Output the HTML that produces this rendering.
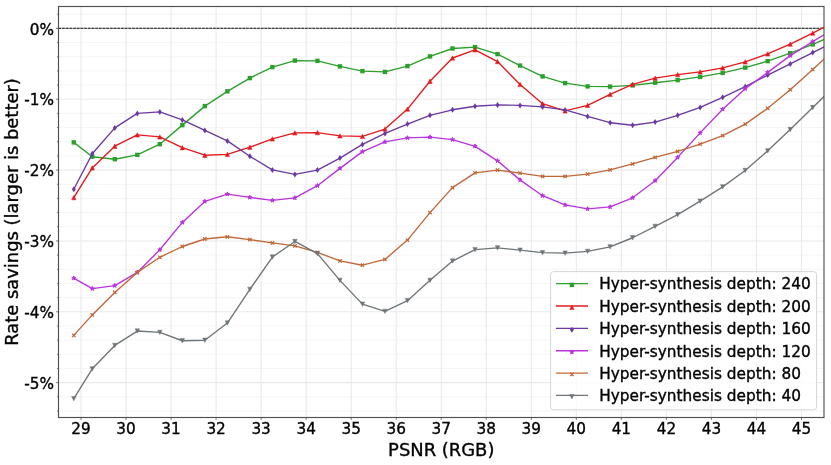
<!DOCTYPE html>
<html><head><meta charset="utf-8"><title>Rate savings</title>
<style>html,body{margin:0;padding:0;background:#fff}svg{display:block}text{font-family:"DejaVu Sans","Liberation Sans",sans-serif;fill:#000;stroke:#000;stroke-width:0.35px}</style></head><body>
<svg width="831" height="465" viewBox="0 0 831 465">
<rect width="831" height="465" fill="#fff"/>
<clipPath id="c"><rect x="58.5" y="6.5" width="765.50" height="411.00"/></clipPath>
<path d="M58.5 14.23H824.0M58.5 42.57H824.0M58.5 56.74H824.0M58.5 70.91H824.0M58.5 85.08H824.0M58.5 113.42H824.0M58.5 127.59H824.0M58.5 141.76H824.0M58.5 155.93H824.0M58.5 184.27H824.0M58.5 198.44H824.0M58.5 212.61H824.0M58.5 226.78H824.0M58.5 255.12H824.0M58.5 269.29H824.0M58.5 283.46H824.0M58.5 297.63H824.0M58.5 325.97H824.0M58.5 340.14H824.0M58.5 354.31H824.0M58.5 368.48H824.0M58.5 396.82H824.0M58.5 410.99H824.0" stroke="#f3f3f3" stroke-width="0.8" fill="none"/>
<path d="M81.01 6.5V417.5M126.04 6.5V417.5M171.07 6.5V417.5M216.10 6.5V417.5M261.13 6.5V417.5M306.16 6.5V417.5M351.19 6.5V417.5M396.22 6.5V417.5M441.25 6.5V417.5M486.28 6.5V417.5M531.31 6.5V417.5M576.34 6.5V417.5M621.37 6.5V417.5M666.40 6.5V417.5M711.43 6.5V417.5M756.46 6.5V417.5M801.49 6.5V417.5M58.5 28.40H824.0M58.5 99.25H824.0M58.5 170.10H824.0M58.5 240.95H824.0M58.5 311.80H824.0M58.5 382.65H824.0" stroke="#eaeaea" stroke-width="1.1" fill="none"/>
<path d="M58.5 28.40H824.0" stroke="#000" stroke-opacity="0.25" stroke-width="1.4" fill="none"/>
<path d="M58.5 28.40H824.0" stroke="#3c3c3c" stroke-width="1.25" stroke-dasharray="2.57 1.11" fill="none"/>
<g clip-path="url(#c)">
<path d="M73.80 142.40L92.27 156.70L114.79 159.20L137.30 154.90L159.82 144.20L182.33 125.10L204.85 106.10L227.36 91.30L249.88 78.10L272.39 67.10L294.90 60.60L317.42 60.90L339.93 66.40L362.45 71.10L384.96 71.90L407.48 66.10L429.99 56.40L452.51 48.50L475.02 47.10L497.54 54.10L520.05 65.60L542.57 76.40L565.08 83.10L587.60 86.40L610.11 86.60L632.62 85.40L655.14 82.70L677.65 80.10L700.17 76.90L722.68 72.90L745.20 67.60L767.71 61.10L790.23 53.10L812.74 44.40L835.26 34.80" stroke="#2ca02c" stroke-width="1.38" fill="none" stroke-linejoin="round"/>
<g><rect x="71.60" y="140.20" width="4.40" height="4.40" fill="#2ca02c"/><rect x="90.07" y="154.50" width="4.40" height="4.40" fill="#2ca02c"/><rect x="112.59" y="157.00" width="4.40" height="4.40" fill="#2ca02c"/><rect x="135.10" y="152.70" width="4.40" height="4.40" fill="#2ca02c"/><rect x="157.62" y="142.00" width="4.40" height="4.40" fill="#2ca02c"/><rect x="180.13" y="122.90" width="4.40" height="4.40" fill="#2ca02c"/><rect x="202.65" y="103.90" width="4.40" height="4.40" fill="#2ca02c"/><rect x="225.16" y="89.10" width="4.40" height="4.40" fill="#2ca02c"/><rect x="247.68" y="75.90" width="4.40" height="4.40" fill="#2ca02c"/><rect x="270.19" y="64.90" width="4.40" height="4.40" fill="#2ca02c"/><rect x="292.70" y="58.40" width="4.40" height="4.40" fill="#2ca02c"/><rect x="315.22" y="58.70" width="4.40" height="4.40" fill="#2ca02c"/><rect x="337.73" y="64.20" width="4.40" height="4.40" fill="#2ca02c"/><rect x="360.25" y="68.90" width="4.40" height="4.40" fill="#2ca02c"/><rect x="382.76" y="69.70" width="4.40" height="4.40" fill="#2ca02c"/><rect x="405.28" y="63.90" width="4.40" height="4.40" fill="#2ca02c"/><rect x="427.79" y="54.20" width="4.40" height="4.40" fill="#2ca02c"/><rect x="450.31" y="46.30" width="4.40" height="4.40" fill="#2ca02c"/><rect x="472.82" y="44.90" width="4.40" height="4.40" fill="#2ca02c"/><rect x="495.34" y="51.90" width="4.40" height="4.40" fill="#2ca02c"/><rect x="517.85" y="63.40" width="4.40" height="4.40" fill="#2ca02c"/><rect x="540.37" y="74.20" width="4.40" height="4.40" fill="#2ca02c"/><rect x="562.88" y="80.90" width="4.40" height="4.40" fill="#2ca02c"/><rect x="585.40" y="84.20" width="4.40" height="4.40" fill="#2ca02c"/><rect x="607.91" y="84.40" width="4.40" height="4.40" fill="#2ca02c"/><rect x="630.42" y="83.20" width="4.40" height="4.40" fill="#2ca02c"/><rect x="652.94" y="80.50" width="4.40" height="4.40" fill="#2ca02c"/><rect x="675.45" y="77.90" width="4.40" height="4.40" fill="#2ca02c"/><rect x="697.97" y="74.70" width="4.40" height="4.40" fill="#2ca02c"/><rect x="720.48" y="70.70" width="4.40" height="4.40" fill="#2ca02c"/><rect x="743.00" y="65.40" width="4.40" height="4.40" fill="#2ca02c"/><rect x="765.51" y="58.90" width="4.40" height="4.40" fill="#2ca02c"/><rect x="788.03" y="50.90" width="4.40" height="4.40" fill="#2ca02c"/><rect x="810.54" y="42.20" width="4.40" height="4.40" fill="#2ca02c"/></g>
<path d="M73.80 197.60L92.27 167.90L114.79 146.20L137.30 134.90L159.82 136.90L182.33 147.70L204.85 155.20L227.36 154.40L249.88 147.20L272.39 138.90L294.90 132.90L317.42 132.60L339.93 135.90L362.45 136.40L384.96 129.10L407.48 109.10L429.99 81.20L452.51 58.00L475.02 49.80L497.54 61.60L520.05 84.40L542.57 103.70L565.08 110.90L587.60 105.40L610.11 94.40L632.62 84.30L655.14 78.10L677.65 74.60L700.17 71.90L722.68 67.90L745.20 61.90L767.71 53.90L790.23 44.10L812.74 33.10L835.26 21.50" stroke="#e31b1e" stroke-width="1.38" fill="none" stroke-linejoin="round"/>
<g><path d="M73.80 195.40L76.00 199.80L71.60 199.80Z" fill="#e31b1e" stroke="#e31b1e" stroke-width="0.5"/><path d="M92.27 165.70L94.47 170.10L90.07 170.10Z" fill="#e31b1e" stroke="#e31b1e" stroke-width="0.5"/><path d="M114.79 144.00L116.99 148.40L112.59 148.40Z" fill="#e31b1e" stroke="#e31b1e" stroke-width="0.5"/><path d="M137.30 132.70L139.50 137.10L135.10 137.10Z" fill="#e31b1e" stroke="#e31b1e" stroke-width="0.5"/><path d="M159.82 134.70L162.02 139.10L157.62 139.10Z" fill="#e31b1e" stroke="#e31b1e" stroke-width="0.5"/><path d="M182.33 145.50L184.53 149.90L180.13 149.90Z" fill="#e31b1e" stroke="#e31b1e" stroke-width="0.5"/><path d="M204.85 153.00L207.05 157.40L202.65 157.40Z" fill="#e31b1e" stroke="#e31b1e" stroke-width="0.5"/><path d="M227.36 152.20L229.56 156.60L225.16 156.60Z" fill="#e31b1e" stroke="#e31b1e" stroke-width="0.5"/><path d="M249.88 145.00L252.07 149.40L247.68 149.40Z" fill="#e31b1e" stroke="#e31b1e" stroke-width="0.5"/><path d="M272.39 136.70L274.59 141.10L270.19 141.10Z" fill="#e31b1e" stroke="#e31b1e" stroke-width="0.5"/><path d="M294.90 130.70L297.10 135.10L292.70 135.10Z" fill="#e31b1e" stroke="#e31b1e" stroke-width="0.5"/><path d="M317.42 130.40L319.62 134.80L315.22 134.80Z" fill="#e31b1e" stroke="#e31b1e" stroke-width="0.5"/><path d="M339.93 133.70L342.13 138.10L337.73 138.10Z" fill="#e31b1e" stroke="#e31b1e" stroke-width="0.5"/><path d="M362.45 134.20L364.65 138.60L360.25 138.60Z" fill="#e31b1e" stroke="#e31b1e" stroke-width="0.5"/><path d="M384.96 126.90L387.16 131.30L382.76 131.30Z" fill="#e31b1e" stroke="#e31b1e" stroke-width="0.5"/><path d="M407.48 106.90L409.68 111.30L405.28 111.30Z" fill="#e31b1e" stroke="#e31b1e" stroke-width="0.5"/><path d="M429.99 79.00L432.19 83.40L427.79 83.40Z" fill="#e31b1e" stroke="#e31b1e" stroke-width="0.5"/><path d="M452.51 55.80L454.71 60.20L450.31 60.20Z" fill="#e31b1e" stroke="#e31b1e" stroke-width="0.5"/><path d="M475.02 47.60L477.22 52.00L472.82 52.00Z" fill="#e31b1e" stroke="#e31b1e" stroke-width="0.5"/><path d="M497.54 59.40L499.74 63.80L495.34 63.80Z" fill="#e31b1e" stroke="#e31b1e" stroke-width="0.5"/><path d="M520.05 82.20L522.25 86.60L517.85 86.60Z" fill="#e31b1e" stroke="#e31b1e" stroke-width="0.5"/><path d="M542.57 101.50L544.77 105.90L540.37 105.90Z" fill="#e31b1e" stroke="#e31b1e" stroke-width="0.5"/><path d="M565.08 108.70L567.28 113.10L562.88 113.10Z" fill="#e31b1e" stroke="#e31b1e" stroke-width="0.5"/><path d="M587.60 103.20L589.80 107.60L585.40 107.60Z" fill="#e31b1e" stroke="#e31b1e" stroke-width="0.5"/><path d="M610.11 92.20L612.31 96.60L607.91 96.60Z" fill="#e31b1e" stroke="#e31b1e" stroke-width="0.5"/><path d="M632.62 82.10L634.83 86.50L630.42 86.50Z" fill="#e31b1e" stroke="#e31b1e" stroke-width="0.5"/><path d="M655.14 75.90L657.34 80.30L652.94 80.30Z" fill="#e31b1e" stroke="#e31b1e" stroke-width="0.5"/><path d="M677.65 72.40L679.85 76.80L675.45 76.80Z" fill="#e31b1e" stroke="#e31b1e" stroke-width="0.5"/><path d="M700.17 69.70L702.37 74.10L697.97 74.10Z" fill="#e31b1e" stroke="#e31b1e" stroke-width="0.5"/><path d="M722.68 65.70L724.88 70.10L720.48 70.10Z" fill="#e31b1e" stroke="#e31b1e" stroke-width="0.5"/><path d="M745.20 59.70L747.40 64.10L743.00 64.10Z" fill="#e31b1e" stroke="#e31b1e" stroke-width="0.5"/><path d="M767.71 51.70L769.91 56.10L765.51 56.10Z" fill="#e31b1e" stroke="#e31b1e" stroke-width="0.5"/><path d="M790.23 41.90L792.43 46.30L788.03 46.30Z" fill="#e31b1e" stroke="#e31b1e" stroke-width="0.5"/><path d="M812.74 30.90L814.94 35.30L810.54 35.30Z" fill="#e31b1e" stroke="#e31b1e" stroke-width="0.5"/></g>
<path d="M73.80 189.30L92.27 153.70L114.79 127.90L137.30 113.40L159.82 111.90L182.33 119.90L204.85 130.40L227.36 140.90L249.88 156.30L272.39 169.90L294.90 174.40L317.42 170.10L339.93 158.10L362.45 144.40L384.96 133.40L407.48 124.10L429.99 115.30L452.51 109.80L475.02 106.20L497.54 104.90L520.05 105.40L542.57 106.90L565.08 109.90L587.60 116.40L610.11 122.70L632.62 125.20L655.14 122.10L677.65 115.30L700.17 107.40L722.68 97.30L745.20 86.70L767.71 75.10L790.23 63.90L812.74 52.60L835.26 41.20" stroke="#6a3aa2" stroke-width="1.38" fill="none" stroke-linejoin="round"/>
<g><path d="M73.80 186.30L75.80 189.30L73.80 192.30L71.80 189.30Z" fill="#6a3aa2"/><path d="M92.27 150.70L94.27 153.70L92.27 156.70L90.27 153.70Z" fill="#6a3aa2"/><path d="M114.79 124.90L116.79 127.90L114.79 130.90L112.79 127.90Z" fill="#6a3aa2"/><path d="M137.30 110.40L139.30 113.40L137.30 116.40L135.30 113.40Z" fill="#6a3aa2"/><path d="M159.82 108.90L161.82 111.90L159.82 114.90L157.82 111.90Z" fill="#6a3aa2"/><path d="M182.33 116.90L184.33 119.90L182.33 122.90L180.33 119.90Z" fill="#6a3aa2"/><path d="M204.85 127.40L206.85 130.40L204.85 133.40L202.85 130.40Z" fill="#6a3aa2"/><path d="M227.36 137.90L229.36 140.90L227.36 143.90L225.36 140.90Z" fill="#6a3aa2"/><path d="M249.88 153.30L251.88 156.30L249.88 159.30L247.88 156.30Z" fill="#6a3aa2"/><path d="M272.39 166.90L274.39 169.90L272.39 172.90L270.39 169.90Z" fill="#6a3aa2"/><path d="M294.90 171.40L296.90 174.40L294.90 177.40L292.90 174.40Z" fill="#6a3aa2"/><path d="M317.42 167.10L319.42 170.10L317.42 173.10L315.42 170.10Z" fill="#6a3aa2"/><path d="M339.93 155.10L341.93 158.10L339.93 161.10L337.93 158.10Z" fill="#6a3aa2"/><path d="M362.45 141.40L364.45 144.40L362.45 147.40L360.45 144.40Z" fill="#6a3aa2"/><path d="M384.96 130.40L386.96 133.40L384.96 136.40L382.96 133.40Z" fill="#6a3aa2"/><path d="M407.48 121.10L409.48 124.10L407.48 127.10L405.48 124.10Z" fill="#6a3aa2"/><path d="M429.99 112.30L431.99 115.30L429.99 118.30L427.99 115.30Z" fill="#6a3aa2"/><path d="M452.51 106.80L454.51 109.80L452.51 112.80L450.51 109.80Z" fill="#6a3aa2"/><path d="M475.02 103.20L477.02 106.20L475.02 109.20L473.02 106.20Z" fill="#6a3aa2"/><path d="M497.54 101.90L499.54 104.90L497.54 107.90L495.54 104.90Z" fill="#6a3aa2"/><path d="M520.05 102.40L522.05 105.40L520.05 108.40L518.05 105.40Z" fill="#6a3aa2"/><path d="M542.57 103.90L544.57 106.90L542.57 109.90L540.57 106.90Z" fill="#6a3aa2"/><path d="M565.08 106.90L567.08 109.90L565.08 112.90L563.08 109.90Z" fill="#6a3aa2"/><path d="M587.60 113.40L589.60 116.40L587.60 119.40L585.60 116.40Z" fill="#6a3aa2"/><path d="M610.11 119.70L612.11 122.70L610.11 125.70L608.11 122.70Z" fill="#6a3aa2"/><path d="M632.62 122.20L634.62 125.20L632.62 128.20L630.62 125.20Z" fill="#6a3aa2"/><path d="M655.14 119.10L657.14 122.10L655.14 125.10L653.14 122.10Z" fill="#6a3aa2"/><path d="M677.65 112.30L679.65 115.30L677.65 118.30L675.65 115.30Z" fill="#6a3aa2"/><path d="M700.17 104.40L702.17 107.40L700.17 110.40L698.17 107.40Z" fill="#6a3aa2"/><path d="M722.68 94.30L724.68 97.30L722.68 100.30L720.68 97.30Z" fill="#6a3aa2"/><path d="M745.20 83.70L747.20 86.70L745.20 89.70L743.20 86.70Z" fill="#6a3aa2"/><path d="M767.71 72.10L769.71 75.10L767.71 78.10L765.71 75.10Z" fill="#6a3aa2"/><path d="M790.23 60.90L792.23 63.90L790.23 66.90L788.23 63.90Z" fill="#6a3aa2"/><path d="M812.74 49.60L814.74 52.60L812.74 55.60L810.74 52.60Z" fill="#6a3aa2"/></g>
<path d="M73.80 278.10L92.27 288.60L114.79 285.60L137.30 272.40L159.82 249.80L182.33 222.40L204.85 201.40L227.36 194.10L249.88 197.40L272.39 200.40L294.90 197.90L317.42 185.70L339.93 168.40L362.45 151.60L384.96 141.90L407.48 137.90L429.99 137.10L452.51 139.60L475.02 146.30L497.54 160.90L520.05 179.90L542.57 195.70L565.08 204.90L587.60 208.90L610.11 206.90L632.62 197.80L655.14 180.70L677.65 157.40L700.17 132.90L722.68 109.20L745.20 88.70L767.71 72.40L790.23 55.60L812.74 41.60L835.26 28.00" stroke="#b934dc" stroke-width="1.38" fill="none" stroke-linejoin="round"/>
<g><path d="M73.80 275.90L74.29 277.42L75.89 277.42L74.60 278.36L75.09 279.88L73.80 278.94L72.51 279.88L73.00 278.36L71.71 277.42L73.31 277.42Z" fill="#b934dc" stroke="#b934dc" stroke-width="1.0" stroke-linejoin="miter"/><path d="M92.27 286.40L92.77 287.92L94.36 287.92L93.07 288.86L93.57 290.38L92.27 289.44L90.98 290.38L91.47 288.86L90.18 287.92L91.78 287.92Z" fill="#b934dc" stroke="#b934dc" stroke-width="1.0" stroke-linejoin="miter"/><path d="M114.79 283.40L115.28 284.92L116.88 284.92L115.59 285.86L116.08 287.38L114.79 286.44L113.49 287.38L113.99 285.86L112.69 284.92L114.29 284.92Z" fill="#b934dc" stroke="#b934dc" stroke-width="1.0" stroke-linejoin="miter"/><path d="M137.30 270.20L137.80 271.72L139.39 271.72L138.10 272.66L138.59 274.18L137.30 273.24L136.01 274.18L136.50 272.66L135.21 271.72L136.81 271.72Z" fill="#b934dc" stroke="#b934dc" stroke-width="1.0" stroke-linejoin="miter"/><path d="M159.82 247.60L160.31 249.12L161.91 249.12L160.62 250.06L161.11 251.58L159.82 250.64L158.52 251.58L159.02 250.06L157.72 249.12L159.32 249.12Z" fill="#b934dc" stroke="#b934dc" stroke-width="1.0" stroke-linejoin="miter"/><path d="M182.33 220.20L182.82 221.72L184.42 221.72L183.13 222.66L183.62 224.18L182.33 223.24L181.04 224.18L181.53 222.66L180.24 221.72L181.84 221.72Z" fill="#b934dc" stroke="#b934dc" stroke-width="1.0" stroke-linejoin="miter"/><path d="M204.85 199.20L205.34 200.72L206.94 200.72L205.64 201.66L206.14 203.18L204.85 202.24L203.55 203.18L204.05 201.66L202.75 200.72L204.35 200.72Z" fill="#b934dc" stroke="#b934dc" stroke-width="1.0" stroke-linejoin="miter"/><path d="M227.36 191.90L227.85 193.42L229.45 193.42L228.16 194.36L228.65 195.88L227.36 194.94L226.07 195.88L226.56 194.36L225.27 193.42L226.87 193.42Z" fill="#b934dc" stroke="#b934dc" stroke-width="1.0" stroke-linejoin="miter"/><path d="M249.88 195.20L250.37 196.72L251.97 196.72L250.67 197.66L251.17 199.18L249.88 198.24L248.58 199.18L249.08 197.66L247.78 196.72L249.38 196.72Z" fill="#b934dc" stroke="#b934dc" stroke-width="1.0" stroke-linejoin="miter"/><path d="M272.39 198.20L272.88 199.72L274.48 199.72L273.19 200.66L273.68 202.18L272.39 201.24L271.10 202.18L271.59 200.66L270.30 199.72L271.90 199.72Z" fill="#b934dc" stroke="#b934dc" stroke-width="1.0" stroke-linejoin="miter"/><path d="M294.90 195.70L295.40 197.22L297.00 197.22L295.70 198.16L296.20 199.68L294.90 198.74L293.61 199.68L294.11 198.16L292.81 197.22L294.41 197.22Z" fill="#b934dc" stroke="#b934dc" stroke-width="1.0" stroke-linejoin="miter"/><path d="M317.42 183.50L317.91 185.02L319.51 185.02L318.22 185.96L318.71 187.48L317.42 186.54L316.13 187.48L316.62 185.96L315.33 185.02L316.93 185.02Z" fill="#b934dc" stroke="#b934dc" stroke-width="1.0" stroke-linejoin="miter"/><path d="M339.93 166.20L340.43 167.72L342.03 167.72L340.73 168.66L341.23 170.18L339.93 169.24L338.64 170.18L339.13 168.66L337.84 167.72L339.44 167.72Z" fill="#b934dc" stroke="#b934dc" stroke-width="1.0" stroke-linejoin="miter"/><path d="M362.45 149.40L362.94 150.92L364.54 150.92L363.25 151.86L363.74 153.38L362.45 152.44L361.16 153.38L361.65 151.86L360.36 150.92L361.95 150.92Z" fill="#b934dc" stroke="#b934dc" stroke-width="1.0" stroke-linejoin="miter"/><path d="M384.96 139.70L385.46 141.22L387.06 141.22L385.76 142.16L386.26 143.68L384.96 142.74L383.67 143.68L384.16 142.16L382.87 141.22L384.47 141.22Z" fill="#b934dc" stroke="#b934dc" stroke-width="1.0" stroke-linejoin="miter"/><path d="M407.48 135.70L407.97 137.22L409.57 137.22L408.28 138.16L408.77 139.68L407.48 138.74L406.18 139.68L406.68 138.16L405.39 137.22L406.98 137.22Z" fill="#b934dc" stroke="#b934dc" stroke-width="1.0" stroke-linejoin="miter"/><path d="M429.99 134.90L430.49 136.42L432.08 136.42L430.79 137.36L431.29 138.88L429.99 137.94L428.70 138.88L429.19 137.36L427.90 136.42L429.50 136.42Z" fill="#b934dc" stroke="#b934dc" stroke-width="1.0" stroke-linejoin="miter"/><path d="M452.51 137.40L453.00 138.92L454.60 138.92L453.31 139.86L453.80 141.38L452.51 140.44L451.21 141.38L451.71 139.86L450.42 138.92L452.01 138.92Z" fill="#b934dc" stroke="#b934dc" stroke-width="1.0" stroke-linejoin="miter"/><path d="M475.02 144.10L475.52 145.62L477.11 145.62L475.82 146.56L476.32 148.08L475.02 147.14L473.73 148.08L474.22 146.56L472.93 145.62L474.53 145.62Z" fill="#b934dc" stroke="#b934dc" stroke-width="1.0" stroke-linejoin="miter"/><path d="M497.54 158.70L498.03 160.22L499.63 160.22L498.34 161.16L498.83 162.68L497.54 161.74L496.24 162.68L496.74 161.16L495.44 160.22L497.04 160.22Z" fill="#b934dc" stroke="#b934dc" stroke-width="1.0" stroke-linejoin="miter"/><path d="M520.05 177.70L520.55 179.22L522.14 179.22L520.85 180.16L521.34 181.68L520.05 180.74L518.76 181.68L519.25 180.16L517.96 179.22L519.56 179.22Z" fill="#b934dc" stroke="#b934dc" stroke-width="1.0" stroke-linejoin="miter"/><path d="M542.57 193.50L543.06 195.02L544.66 195.02L543.37 195.96L543.86 197.48L542.57 196.54L541.27 197.48L541.77 195.96L540.47 195.02L542.07 195.02Z" fill="#b934dc" stroke="#b934dc" stroke-width="1.0" stroke-linejoin="miter"/><path d="M565.08 202.70L565.57 204.22L567.17 204.22L565.88 205.16L566.37 206.68L565.08 205.74L563.79 206.68L564.28 205.16L562.99 204.22L564.59 204.22Z" fill="#b934dc" stroke="#b934dc" stroke-width="1.0" stroke-linejoin="miter"/><path d="M587.60 206.70L588.09 208.22L589.69 208.22L588.39 209.16L588.89 210.68L587.60 209.74L586.30 210.68L586.80 209.16L585.50 208.22L587.10 208.22Z" fill="#b934dc" stroke="#b934dc" stroke-width="1.0" stroke-linejoin="miter"/><path d="M610.11 204.70L610.60 206.22L612.20 206.22L610.91 207.16L611.40 208.68L610.11 207.74L608.82 208.68L609.31 207.16L608.02 206.22L609.62 206.22Z" fill="#b934dc" stroke="#b934dc" stroke-width="1.0" stroke-linejoin="miter"/><path d="M632.62 195.60L633.12 197.12L634.72 197.12L633.42 198.06L633.92 199.58L632.62 198.64L631.33 199.58L631.83 198.06L630.53 197.12L632.13 197.12Z" fill="#b934dc" stroke="#b934dc" stroke-width="1.0" stroke-linejoin="miter"/><path d="M655.14 178.50L655.63 180.02L657.23 180.02L655.94 180.96L656.43 182.48L655.14 181.54L653.85 182.48L654.34 180.96L653.05 180.02L654.65 180.02Z" fill="#b934dc" stroke="#b934dc" stroke-width="1.0" stroke-linejoin="miter"/><path d="M677.65 155.20L678.15 156.72L679.75 156.72L678.45 157.66L678.95 159.18L677.65 158.24L676.36 159.18L676.86 157.66L675.56 156.72L677.16 156.72Z" fill="#b934dc" stroke="#b934dc" stroke-width="1.0" stroke-linejoin="miter"/><path d="M700.17 130.70L700.66 132.22L702.26 132.22L700.97 133.16L701.46 134.68L700.17 133.74L698.88 134.68L699.37 133.16L698.08 132.22L699.68 132.22Z" fill="#b934dc" stroke="#b934dc" stroke-width="1.0" stroke-linejoin="miter"/><path d="M722.68 107.00L723.18 108.52L724.78 108.52L723.48 109.46L723.98 110.98L722.68 110.04L721.39 110.98L721.88 109.46L720.59 108.52L722.19 108.52Z" fill="#b934dc" stroke="#b934dc" stroke-width="1.0" stroke-linejoin="miter"/><path d="M745.20 86.50L745.69 88.02L747.29 88.02L746.00 88.96L746.49 90.48L745.20 89.54L743.91 90.48L744.40 88.96L743.11 88.02L744.70 88.02Z" fill="#b934dc" stroke="#b934dc" stroke-width="1.0" stroke-linejoin="miter"/><path d="M767.71 70.20L768.21 71.72L769.81 71.72L768.51 72.66L769.01 74.18L767.71 73.24L766.42 74.18L766.91 72.66L765.62 71.72L767.22 71.72Z" fill="#b934dc" stroke="#b934dc" stroke-width="1.0" stroke-linejoin="miter"/><path d="M790.23 53.40L790.72 54.92L792.32 54.92L791.03 55.86L791.52 57.38L790.23 56.44L788.93 57.38L789.43 55.86L788.14 54.92L789.73 54.92Z" fill="#b934dc" stroke="#b934dc" stroke-width="1.0" stroke-linejoin="miter"/><path d="M812.74 39.40L813.24 40.92L814.83 40.92L813.54 41.86L814.04 43.38L812.74 42.44L811.45 43.38L811.94 41.86L810.65 40.92L812.25 40.92Z" fill="#b934dc" stroke="#b934dc" stroke-width="1.0" stroke-linejoin="miter"/></g>
<path d="M73.80 335.40L92.27 314.90L114.79 292.40L137.30 272.40L159.82 257.30L182.33 246.50L204.85 239.00L227.36 236.80L249.88 239.60L272.39 242.90L294.90 245.90L317.42 252.40L339.93 260.90L362.45 265.20L384.96 259.40L407.48 240.10L429.99 212.60L452.51 187.60L475.02 172.90L497.54 170.10L520.05 173.10L542.57 176.40L565.08 176.40L587.60 174.10L610.11 169.90L632.62 163.90L655.14 157.40L677.65 151.40L700.17 144.10L722.68 135.60L745.20 124.10L767.71 108.30L790.23 89.70L812.74 69.40L835.26 48.80" stroke="#c0683a" stroke-width="1.38" fill="none" stroke-linejoin="round"/>
<g><path d="M72.10 333.70L75.50 337.10M72.10 337.10L75.50 333.70" stroke="#c0683a" stroke-width="1.25" fill="none"/><path d="M90.57 313.20L93.97 316.60M90.57 316.60L93.97 313.20" stroke="#c0683a" stroke-width="1.25" fill="none"/><path d="M113.09 290.70L116.49 294.10M113.09 294.10L116.49 290.70" stroke="#c0683a" stroke-width="1.25" fill="none"/><path d="M135.60 270.70L139.00 274.10M135.60 274.10L139.00 270.70" stroke="#c0683a" stroke-width="1.25" fill="none"/><path d="M158.12 255.60L161.52 259.00M158.12 259.00L161.52 255.60" stroke="#c0683a" stroke-width="1.25" fill="none"/><path d="M180.63 244.80L184.03 248.20M180.63 248.20L184.03 244.80" stroke="#c0683a" stroke-width="1.25" fill="none"/><path d="M203.15 237.30L206.55 240.70M203.15 240.70L206.55 237.30" stroke="#c0683a" stroke-width="1.25" fill="none"/><path d="M225.66 235.10L229.06 238.50M225.66 238.50L229.06 235.10" stroke="#c0683a" stroke-width="1.25" fill="none"/><path d="M248.18 237.90L251.57 241.30M248.18 241.30L251.57 237.90" stroke="#c0683a" stroke-width="1.25" fill="none"/><path d="M270.69 241.20L274.09 244.60M270.69 244.60L274.09 241.20" stroke="#c0683a" stroke-width="1.25" fill="none"/><path d="M293.20 244.20L296.60 247.60M293.20 247.60L296.60 244.20" stroke="#c0683a" stroke-width="1.25" fill="none"/><path d="M315.72 250.70L319.12 254.10M315.72 254.10L319.12 250.70" stroke="#c0683a" stroke-width="1.25" fill="none"/><path d="M338.23 259.20L341.63 262.60M338.23 262.60L341.63 259.20" stroke="#c0683a" stroke-width="1.25" fill="none"/><path d="M360.75 263.50L364.15 266.90M360.75 266.90L364.15 263.50" stroke="#c0683a" stroke-width="1.25" fill="none"/><path d="M383.26 257.70L386.66 261.10M383.26 261.10L386.66 257.70" stroke="#c0683a" stroke-width="1.25" fill="none"/><path d="M405.78 238.40L409.18 241.80M405.78 241.80L409.18 238.40" stroke="#c0683a" stroke-width="1.25" fill="none"/><path d="M428.29 210.90L431.69 214.30M428.29 214.30L431.69 210.90" stroke="#c0683a" stroke-width="1.25" fill="none"/><path d="M450.81 185.90L454.21 189.30M450.81 189.30L454.21 185.90" stroke="#c0683a" stroke-width="1.25" fill="none"/><path d="M473.32 171.20L476.72 174.60M473.32 174.60L476.72 171.20" stroke="#c0683a" stroke-width="1.25" fill="none"/><path d="M495.84 168.40L499.24 171.80M495.84 171.80L499.24 168.40" stroke="#c0683a" stroke-width="1.25" fill="none"/><path d="M518.35 171.40L521.75 174.80M518.35 174.80L521.75 171.40" stroke="#c0683a" stroke-width="1.25" fill="none"/><path d="M540.87 174.70L544.27 178.10M540.87 178.10L544.27 174.70" stroke="#c0683a" stroke-width="1.25" fill="none"/><path d="M563.38 174.70L566.78 178.10M563.38 178.10L566.78 174.70" stroke="#c0683a" stroke-width="1.25" fill="none"/><path d="M585.90 172.40L589.30 175.80M585.90 175.80L589.30 172.40" stroke="#c0683a" stroke-width="1.25" fill="none"/><path d="M608.41 168.20L611.81 171.60M608.41 171.60L611.81 168.20" stroke="#c0683a" stroke-width="1.25" fill="none"/><path d="M630.92 162.20L634.33 165.60M630.92 165.60L634.33 162.20" stroke="#c0683a" stroke-width="1.25" fill="none"/><path d="M653.44 155.70L656.84 159.10M653.44 159.10L656.84 155.70" stroke="#c0683a" stroke-width="1.25" fill="none"/><path d="M675.95 149.70L679.35 153.10M675.95 153.10L679.35 149.70" stroke="#c0683a" stroke-width="1.25" fill="none"/><path d="M698.47 142.40L701.87 145.80M698.47 145.80L701.87 142.40" stroke="#c0683a" stroke-width="1.25" fill="none"/><path d="M720.98 133.90L724.38 137.30M720.98 137.30L724.38 133.90" stroke="#c0683a" stroke-width="1.25" fill="none"/><path d="M743.50 122.40L746.90 125.80M743.50 125.80L746.90 122.40" stroke="#c0683a" stroke-width="1.25" fill="none"/><path d="M766.01 106.60L769.41 110.00M766.01 110.00L769.41 106.60" stroke="#c0683a" stroke-width="1.25" fill="none"/><path d="M788.53 88.00L791.93 91.40M788.53 91.40L791.93 88.00" stroke="#c0683a" stroke-width="1.25" fill="none"/><path d="M811.04 67.70L814.44 71.10M811.04 71.10L814.44 67.70" stroke="#c0683a" stroke-width="1.25" fill="none"/></g>
<path d="M73.80 398.65L92.27 368.85L114.79 345.45L137.30 331.05L159.82 332.35L182.33 340.75L204.85 340.25L227.36 323.05L249.88 289.35L272.39 257.05L294.90 241.45L317.42 253.65L339.93 280.35L362.45 304.15L384.96 311.35L407.48 300.65L429.99 280.35L452.51 261.05L475.02 249.65L497.54 247.85L520.05 250.15L542.57 252.65L565.08 253.15L587.60 251.35L610.11 246.85L632.62 237.75L655.14 226.35L677.65 214.65L700.17 201.15L722.68 186.85L745.20 170.45L767.71 150.85L790.23 129.55L812.74 107.55L835.26 85.55" stroke="#6f7578" stroke-width="1.38" fill="none" stroke-linejoin="round"/>
<g><path d="M73.80 400.85L76.00 396.45L71.60 396.45Z" fill="#6f7578" stroke="#6f7578" stroke-width="0.5"/><path d="M92.27 371.05L94.47 366.65L90.07 366.65Z" fill="#6f7578" stroke="#6f7578" stroke-width="0.5"/><path d="M114.79 347.65L116.99 343.25L112.59 343.25Z" fill="#6f7578" stroke="#6f7578" stroke-width="0.5"/><path d="M137.30 333.25L139.50 328.85L135.10 328.85Z" fill="#6f7578" stroke="#6f7578" stroke-width="0.5"/><path d="M159.82 334.55L162.02 330.15L157.62 330.15Z" fill="#6f7578" stroke="#6f7578" stroke-width="0.5"/><path d="M182.33 342.95L184.53 338.55L180.13 338.55Z" fill="#6f7578" stroke="#6f7578" stroke-width="0.5"/><path d="M204.85 342.45L207.05 338.05L202.65 338.05Z" fill="#6f7578" stroke="#6f7578" stroke-width="0.5"/><path d="M227.36 325.25L229.56 320.85L225.16 320.85Z" fill="#6f7578" stroke="#6f7578" stroke-width="0.5"/><path d="M249.88 291.55L252.07 287.15L247.68 287.15Z" fill="#6f7578" stroke="#6f7578" stroke-width="0.5"/><path d="M272.39 259.25L274.59 254.85L270.19 254.85Z" fill="#6f7578" stroke="#6f7578" stroke-width="0.5"/><path d="M294.90 243.65L297.10 239.25L292.70 239.25Z" fill="#6f7578" stroke="#6f7578" stroke-width="0.5"/><path d="M317.42 255.85L319.62 251.45L315.22 251.45Z" fill="#6f7578" stroke="#6f7578" stroke-width="0.5"/><path d="M339.93 282.55L342.13 278.15L337.73 278.15Z" fill="#6f7578" stroke="#6f7578" stroke-width="0.5"/><path d="M362.45 306.35L364.65 301.95L360.25 301.95Z" fill="#6f7578" stroke="#6f7578" stroke-width="0.5"/><path d="M384.96 313.55L387.16 309.15L382.76 309.15Z" fill="#6f7578" stroke="#6f7578" stroke-width="0.5"/><path d="M407.48 302.85L409.68 298.45L405.28 298.45Z" fill="#6f7578" stroke="#6f7578" stroke-width="0.5"/><path d="M429.99 282.55L432.19 278.15L427.79 278.15Z" fill="#6f7578" stroke="#6f7578" stroke-width="0.5"/><path d="M452.51 263.25L454.71 258.85L450.31 258.85Z" fill="#6f7578" stroke="#6f7578" stroke-width="0.5"/><path d="M475.02 251.85L477.22 247.45L472.82 247.45Z" fill="#6f7578" stroke="#6f7578" stroke-width="0.5"/><path d="M497.54 250.05L499.74 245.65L495.34 245.65Z" fill="#6f7578" stroke="#6f7578" stroke-width="0.5"/><path d="M520.05 252.35L522.25 247.95L517.85 247.95Z" fill="#6f7578" stroke="#6f7578" stroke-width="0.5"/><path d="M542.57 254.85L544.77 250.45L540.37 250.45Z" fill="#6f7578" stroke="#6f7578" stroke-width="0.5"/><path d="M565.08 255.35L567.28 250.95L562.88 250.95Z" fill="#6f7578" stroke="#6f7578" stroke-width="0.5"/><path d="M587.60 253.55L589.80 249.15L585.40 249.15Z" fill="#6f7578" stroke="#6f7578" stroke-width="0.5"/><path d="M610.11 249.05L612.31 244.65L607.91 244.65Z" fill="#6f7578" stroke="#6f7578" stroke-width="0.5"/><path d="M632.62 239.95L634.83 235.55L630.42 235.55Z" fill="#6f7578" stroke="#6f7578" stroke-width="0.5"/><path d="M655.14 228.55L657.34 224.15L652.94 224.15Z" fill="#6f7578" stroke="#6f7578" stroke-width="0.5"/><path d="M677.65 216.85L679.85 212.45L675.45 212.45Z" fill="#6f7578" stroke="#6f7578" stroke-width="0.5"/><path d="M700.17 203.35L702.37 198.95L697.97 198.95Z" fill="#6f7578" stroke="#6f7578" stroke-width="0.5"/><path d="M722.68 189.05L724.88 184.65L720.48 184.65Z" fill="#6f7578" stroke="#6f7578" stroke-width="0.5"/><path d="M745.20 172.65L747.40 168.25L743.00 168.25Z" fill="#6f7578" stroke="#6f7578" stroke-width="0.5"/><path d="M767.71 153.05L769.91 148.65L765.51 148.65Z" fill="#6f7578" stroke="#6f7578" stroke-width="0.5"/><path d="M790.23 131.75L792.43 127.35L788.03 127.35Z" fill="#6f7578" stroke="#6f7578" stroke-width="0.5"/><path d="M812.74 109.75L814.94 105.35L810.54 105.35Z" fill="#6f7578" stroke="#6f7578" stroke-width="0.5"/></g>
</g>
<path d="M81.01 417.5v2.4M126.04 417.5v2.4M171.07 417.5v2.4M216.10 417.5v2.4M261.13 417.5v2.4M306.16 417.5v2.4M351.19 417.5v2.4M396.22 417.5v2.4M441.25 417.5v2.4M486.28 417.5v2.4M531.31 417.5v2.4M576.34 417.5v2.4M621.37 417.5v2.4M666.40 417.5v2.4M711.43 417.5v2.4M756.46 417.5v2.4M801.49 417.5v2.4M58.5 99.25h-2.4M58.5 170.10h-2.4M58.5 240.95h-2.4M58.5 311.80h-2.4M58.5 382.65h-2.4" stroke="#555" stroke-width="0.8" fill="none"/>
<path d="M58.5 28.40h-2.4" stroke="#333" stroke-width="0.8" fill="none"/>
<path d="M58.5 14.23h-1.4M58.5 42.57h-1.4M58.5 56.74h-1.4M58.5 70.91h-1.4M58.5 85.08h-1.4M58.5 113.42h-1.4M58.5 127.59h-1.4M58.5 141.76h-1.4M58.5 155.93h-1.4M58.5 184.27h-1.4M58.5 198.44h-1.4M58.5 212.61h-1.4M58.5 226.78h-1.4M58.5 255.12h-1.4M58.5 269.29h-1.4M58.5 283.46h-1.4M58.5 297.63h-1.4M58.5 325.97h-1.4M58.5 340.14h-1.4M58.5 354.31h-1.4M58.5 368.48h-1.4M58.5 396.82h-1.4M58.5 410.99h-1.4" stroke="#333" stroke-width="0.7" fill="none"/>
<rect x="58.5" y="6.5" width="765.50" height="411.00" fill="none" stroke="#505050" stroke-width="1.15"/>
<text x="81.01" y="433.5" font-size="15.28" text-anchor="middle">29</text>
<text x="126.04" y="433.5" font-size="15.28" text-anchor="middle">30</text>
<text x="171.07" y="433.5" font-size="15.28" text-anchor="middle">31</text>
<text x="216.10" y="433.5" font-size="15.28" text-anchor="middle">32</text>
<text x="261.13" y="433.5" font-size="15.28" text-anchor="middle">33</text>
<text x="306.16" y="433.5" font-size="15.28" text-anchor="middle">34</text>
<text x="351.19" y="433.5" font-size="15.28" text-anchor="middle">35</text>
<text x="396.22" y="433.5" font-size="15.28" text-anchor="middle">36</text>
<text x="441.25" y="433.5" font-size="15.28" text-anchor="middle">37</text>
<text x="486.28" y="433.5" font-size="15.28" text-anchor="middle">38</text>
<text x="531.31" y="433.5" font-size="15.28" text-anchor="middle">39</text>
<text x="576.34" y="433.5" font-size="15.28" text-anchor="middle">40</text>
<text x="621.37" y="433.5" font-size="15.28" text-anchor="middle">41</text>
<text x="666.40" y="433.5" font-size="15.28" text-anchor="middle">42</text>
<text x="711.43" y="433.5" font-size="15.28" text-anchor="middle">43</text>
<text x="756.46" y="433.5" font-size="15.28" text-anchor="middle">44</text>
<text x="801.49" y="433.5" font-size="15.28" text-anchor="middle">45</text>
<text x="54.0" y="34.50" font-size="15.28" text-anchor="end">0%</text>
<text x="54.0" y="105.35" font-size="15.28" text-anchor="end">-1%</text>
<text x="54.0" y="176.20" font-size="15.28" text-anchor="end">-2%</text>
<text x="54.0" y="247.05" font-size="15.28" text-anchor="end">-3%</text>
<text x="54.0" y="317.90" font-size="15.28" text-anchor="end">-4%</text>
<text x="54.0" y="388.75" font-size="15.28" text-anchor="end">-5%</text>
<text x="441.25" y="455.9" font-size="17.92" text-anchor="middle">PSNR (RGB)</text>
<text transform="translate(18.3 212.00) rotate(-90)" font-size="17.92" text-anchor="middle">Rate savings (larger is better)</text>
<rect x="550.6" y="271.6" width="266.0" height="138.2" rx="3" ry="3" fill="#fff" fill-opacity="0.8" stroke="#d6d6d6" stroke-width="1"/>
<path d="M555.9 283.6H588" stroke="#2ca02c" stroke-width="1.38" fill="none"/>
<rect x="569.70" y="282.70" width="4.40" height="4.40" fill="#2ca02c"/>
<text x="599.2" y="289.30" font-size="15.34">Hyper-synthesis depth: 240</text>
<path d="M555.9 306.05H588" stroke="#e31b1e" stroke-width="1.38" fill="none"/>
<path d="M571.90 305.15L574.10 309.55L569.70 309.55Z" fill="#e31b1e" stroke="#e31b1e" stroke-width="0.5"/>
<text x="599.2" y="311.75" font-size="15.34">Hyper-synthesis depth: 200</text>
<path d="M555.9 328.4H588" stroke="#6a3aa2" stroke-width="1.38" fill="none"/>
<path d="M571.90 326.70L573.90 329.70L571.90 332.70L569.90 329.70Z" fill="#6a3aa2"/>
<text x="599.2" y="334.10" font-size="15.34">Hyper-synthesis depth: 160</text>
<path d="M555.9 350.8H588" stroke="#b934dc" stroke-width="1.38" fill="none"/>
<path d="M571.90 349.90L572.39 351.42L573.99 351.42L572.70 352.36L573.19 353.88L571.90 352.94L570.61 353.88L571.10 352.36L569.81 351.42L571.41 351.42Z" fill="#b934dc" stroke="#b934dc" stroke-width="1.0" stroke-linejoin="miter"/>
<text x="599.2" y="356.50" font-size="15.34">Hyper-synthesis depth: 120</text>
<path d="M555.9 373.1H588" stroke="#c0683a" stroke-width="1.38" fill="none"/>
<path d="M570.20 372.70L573.60 376.10M570.20 376.10L573.60 372.70" stroke="#c0683a" stroke-width="1.25" fill="none"/>
<text x="599.2" y="378.80" font-size="15.34">Hyper-synthesis depth: 80</text>
<path d="M555.9 395.4H588" stroke="#6f7578" stroke-width="1.38" fill="none"/>
<path d="M571.90 398.90L574.10 394.50L569.70 394.50Z" fill="#6f7578" stroke="#6f7578" stroke-width="0.5"/>
<text x="599.2" y="401.10" font-size="15.34">Hyper-synthesis depth: 40</text>
</svg></body></html>
